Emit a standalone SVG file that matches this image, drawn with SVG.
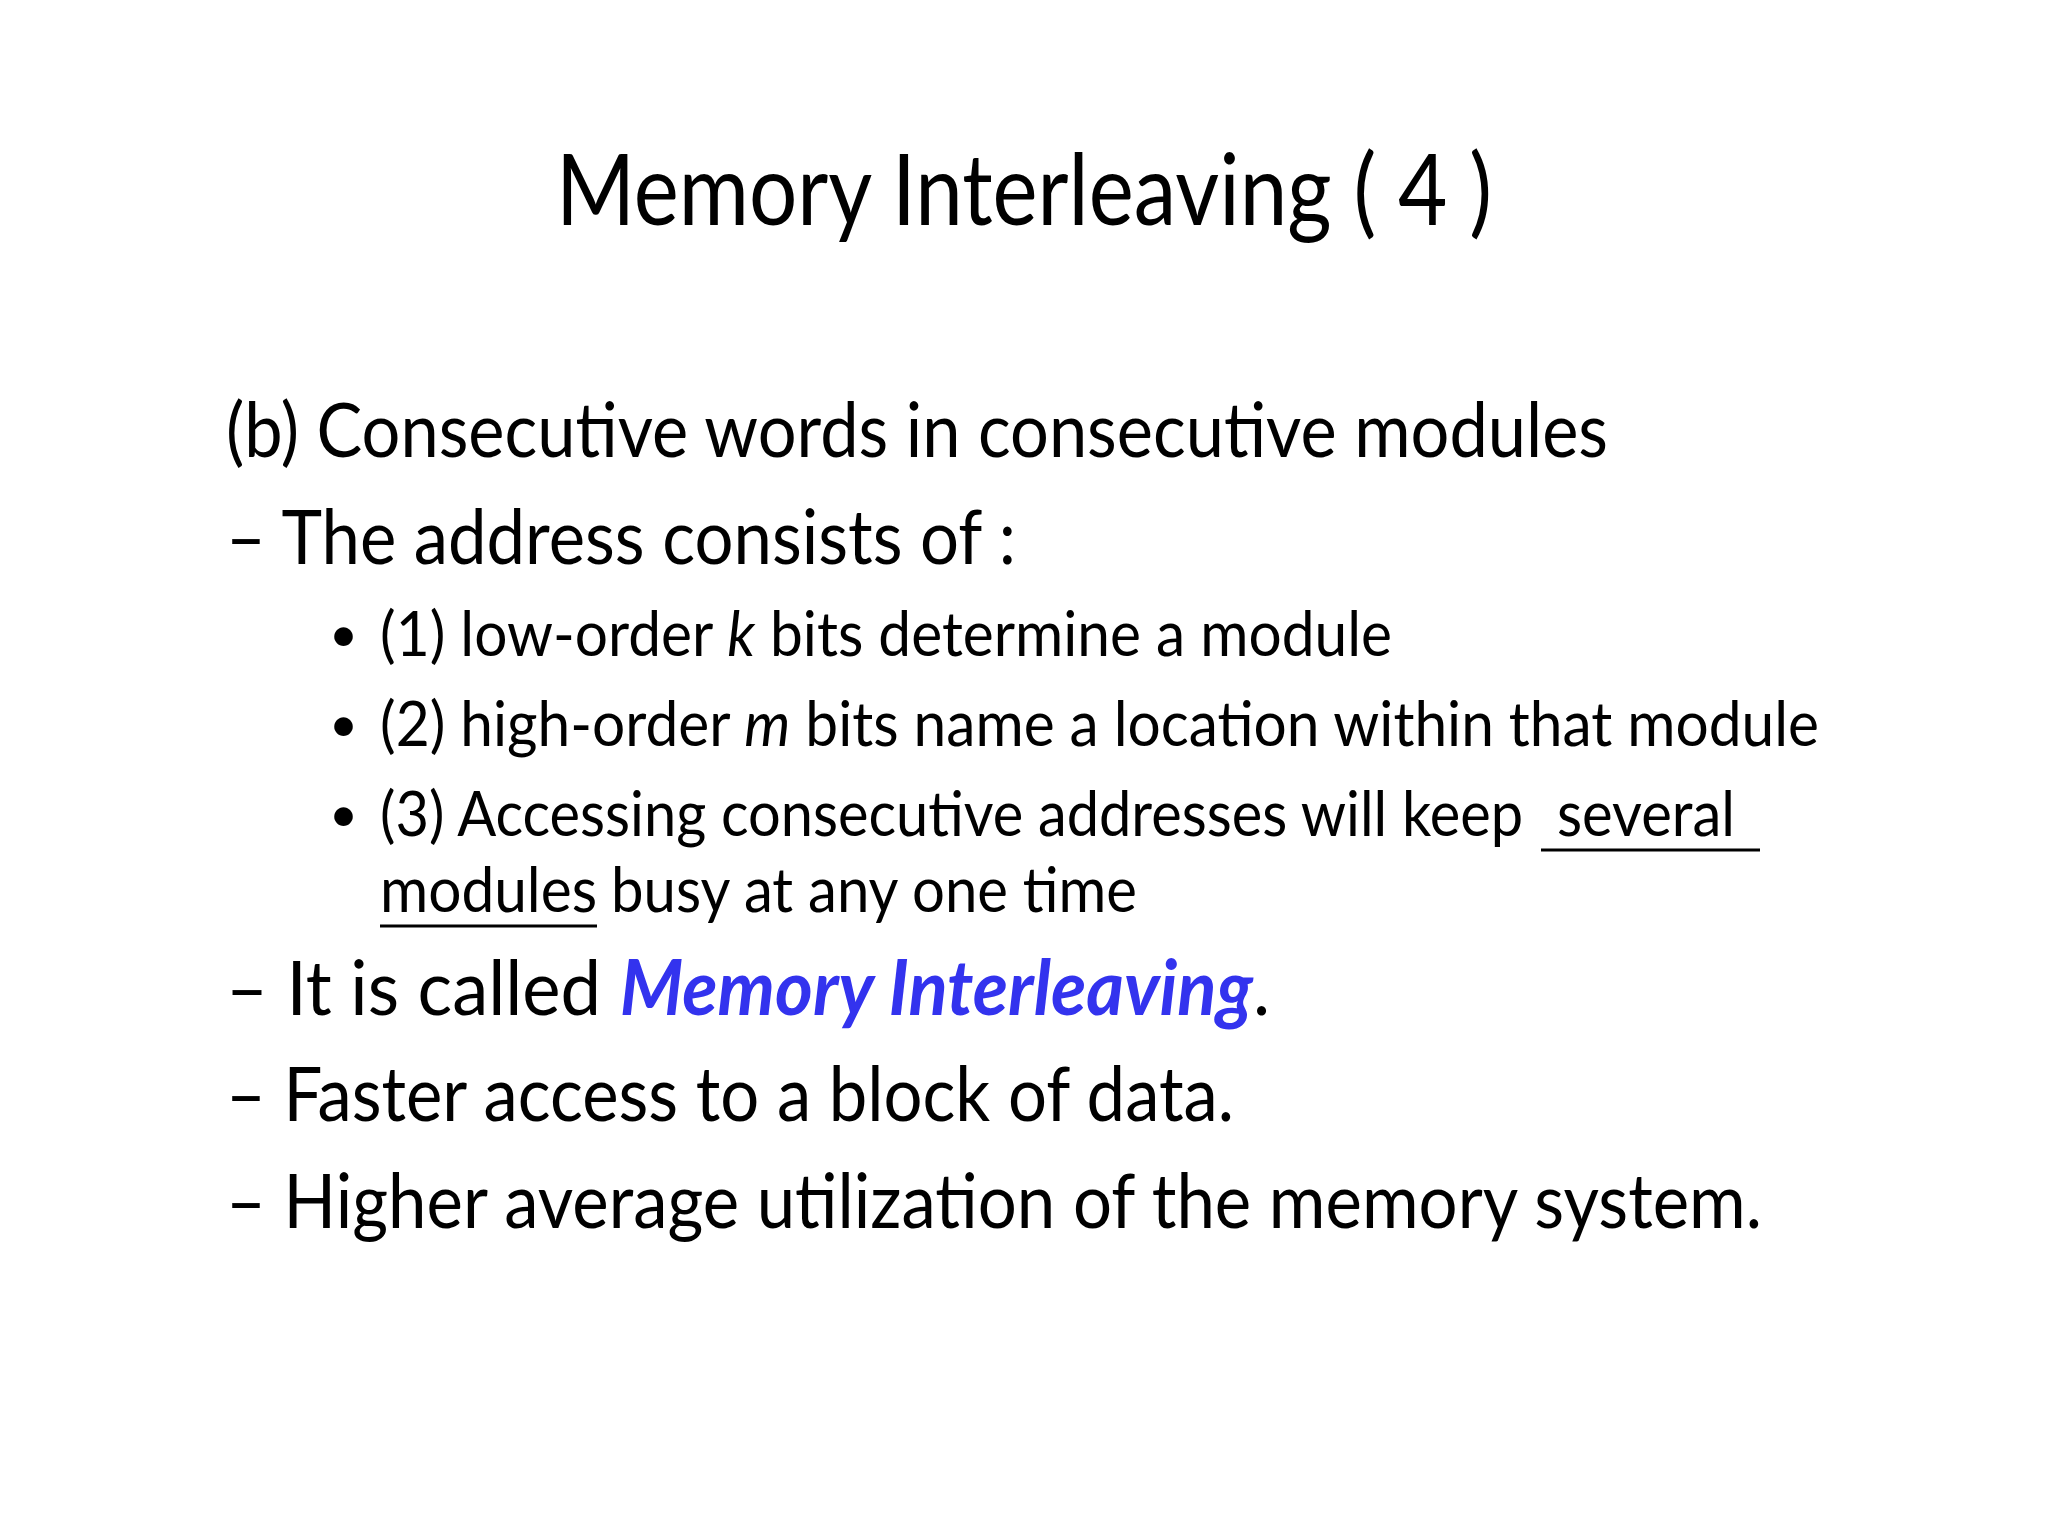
<svg xmlns="http://www.w3.org/2000/svg" width="2048" height="1536" viewBox="0 0 2048 1536">
<style>
text{font-family:Lato,"Open Sans","Liberation Sans",sans-serif;fill:#000}
.t{font-size:98px}
.l1{font-size:76px}
.l2{font-size:62px}
.b{font-size:50px}
.blue{fill:#3333ee;font-weight:bold;font-style:italic}
</style>
<rect width="2048" height="1536" fill="#fff"/>
<text class="t" x="1024" y="225" text-anchor="middle" textLength="936" lengthAdjust="spacingAndGlyphs">Memory Interleaving ( 4 )</text>
<text class="l1" x="226" y="457" textLength="1382" lengthAdjust="spacingAndGlyphs">(b) Consecutive words in consecutive modules</text>
<text class="l1" x="226" y="564" textLength="790" lengthAdjust="spacingAndGlyphs">– The address consists of :</text>
<g id="bullets">
<text class="b" x="329" y="652">•</text>
<text class="l2" x="380" y="656" textLength="1012" lengthAdjust="spacingAndGlyphs">(1) low-order <tspan font-style="italic">k</tspan> bits determine a module</text>
<text class="b" x="329" y="742">•</text>
<text class="l2" x="380" y="746" textLength="1439" lengthAdjust="spacingAndGlyphs">(2) high-order <tspan font-style="italic">m</tspan> bits name a location within that module</text>
<text class="b" x="329" y="832">•</text>
<text class="l2" x="380" y="836" textLength="1143" lengthAdjust="spacingAndGlyphs">(3) Accessing consecutive addresses will keep</text>
<text class="l2" x="1557" y="836" textLength="178" lengthAdjust="spacingAndGlyphs">several</text>
<text class="l2" x="380" y="912" textLength="217" lengthAdjust="spacingAndGlyphs">modules</text>
<text class="l2" x="611" y="912" textLength="526" lengthAdjust="spacingAndGlyphs">busy at any one time</text>
</g>
<line x1="1541" y1="850" x2="1760" y2="850" stroke="#000" stroke-width="3"/>
<line x1="380" y1="926" x2="597" y2="926" stroke="#000" stroke-width="3"/>
<text class="l1" x="226" y="1015" textLength="1044" lengthAdjust="spacingAndGlyphs">– It is called <tspan class="blue">Memory Interleaving</tspan>.</text>
<text class="l1" x="226" y="1121" textLength="1008" lengthAdjust="spacingAndGlyphs">– Faster access to a block of data.</text>
<text class="l1" x="226" y="1228" textLength="1536" lengthAdjust="spacingAndGlyphs">– Higher average utilization of the memory system.</text>
</svg>
